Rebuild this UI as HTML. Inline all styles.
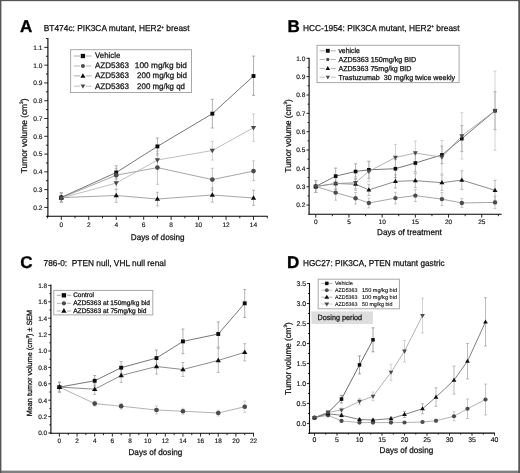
<!DOCTYPE html>
<html lang="en">
<head>
<meta charset="utf-8">
<title>AZD5363 xenograft tumor volume figure</title>
<style>
html,body{margin:0;padding:0;background:#fff;}
body{width:520px;height:473px;overflow:hidden;font-family:"Liberation Sans", sans-serif;}
svg{display:block;}
</style>
</head>
<body>
<svg width="520" height="473" viewBox="0 0 520 473" font-family='"Liberation Sans", sans-serif' text-rendering="geometricPrecision">
<rect x="0" y="0" width="520" height="473" fill="#fff"/>
<defs><filter id="soft" x="0" y="0" width="520" height="473" filterUnits="userSpaceOnUse"><feGaussianBlur stdDeviation="0.35"/></filter></defs>
<g filter="url(#soft)">
<text x="20.1" y="32.2" font-size="17" font-weight="bold" fill="#000" stroke="#000" stroke-width="0.35">A</text>
<text x="43.8" y="31" font-size="8.6" fill="#111" stroke="#111" stroke-width="0.25" textLength="145.8" lengthAdjust="spacingAndGlyphs">BT474c: PIK3CA mutant, HER2<tspan font-size="4.8" dy="-2.5">+</tspan><tspan dy="2.5"> breast</tspan></text>
<line x1="47.9" y1="38.1" x2="47.9" y2="216.9" stroke="#080808" stroke-width="1.1"/>
<line x1="47.3" y1="216.3" x2="267.7" y2="216.3" stroke="#080808" stroke-width="1.1"/>
<line x1="44.3" y1="207.41" x2="47.9" y2="207.41" stroke="#080808" stroke-width="0.85"/>
<line x1="44.3" y1="189.63" x2="47.9" y2="189.63" stroke="#080808" stroke-width="0.85"/>
<line x1="44.3" y1="171.85" x2="47.9" y2="171.85" stroke="#080808" stroke-width="0.85"/>
<line x1="44.3" y1="154.07" x2="47.9" y2="154.07" stroke="#080808" stroke-width="0.85"/>
<line x1="44.3" y1="136.29" x2="47.9" y2="136.29" stroke="#080808" stroke-width="0.85"/>
<line x1="44.3" y1="118.51" x2="47.9" y2="118.51" stroke="#080808" stroke-width="0.85"/>
<line x1="44.3" y1="100.73" x2="47.9" y2="100.73" stroke="#080808" stroke-width="0.85"/>
<line x1="44.3" y1="82.95" x2="47.9" y2="82.95" stroke="#080808" stroke-width="0.85"/>
<line x1="44.3" y1="65.17" x2="47.9" y2="65.17" stroke="#080808" stroke-width="0.85"/>
<line x1="44.3" y1="47.39" x2="47.9" y2="47.39" stroke="#080808" stroke-width="0.85"/>
<line x1="45.9" y1="216.3" x2="47.9" y2="216.3" stroke="#080808" stroke-width="0.85"/>
<line x1="45.9" y1="198.52" x2="47.9" y2="198.52" stroke="#080808" stroke-width="0.85"/>
<line x1="45.9" y1="180.74" x2="47.9" y2="180.74" stroke="#080808" stroke-width="0.85"/>
<line x1="45.9" y1="162.96" x2="47.9" y2="162.96" stroke="#080808" stroke-width="0.85"/>
<line x1="45.9" y1="145.18" x2="47.9" y2="145.18" stroke="#080808" stroke-width="0.85"/>
<line x1="45.9" y1="127.4" x2="47.9" y2="127.4" stroke="#080808" stroke-width="0.85"/>
<line x1="45.9" y1="109.62" x2="47.9" y2="109.62" stroke="#080808" stroke-width="0.85"/>
<line x1="45.9" y1="91.84" x2="47.9" y2="91.84" stroke="#080808" stroke-width="0.85"/>
<line x1="45.9" y1="74.06" x2="47.9" y2="74.06" stroke="#080808" stroke-width="0.85"/>
<line x1="45.9" y1="56.28" x2="47.9" y2="56.28" stroke="#080808" stroke-width="0.85"/>
<line x1="45.9" y1="38.5" x2="47.9" y2="38.5" stroke="#080808" stroke-width="0.85"/>
<line x1="61.3" y1="216.3" x2="61.3" y2="219.9" stroke="#080808" stroke-width="0.85"/>
<line x1="88.76" y1="216.3" x2="88.76" y2="219.9" stroke="#080808" stroke-width="0.85"/>
<line x1="116.22" y1="216.3" x2="116.22" y2="219.9" stroke="#080808" stroke-width="0.85"/>
<line x1="143.68" y1="216.3" x2="143.68" y2="219.9" stroke="#080808" stroke-width="0.85"/>
<line x1="171.14" y1="216.3" x2="171.14" y2="219.9" stroke="#080808" stroke-width="0.85"/>
<line x1="198.6" y1="216.3" x2="198.6" y2="219.9" stroke="#080808" stroke-width="0.85"/>
<line x1="226.06" y1="216.3" x2="226.06" y2="219.9" stroke="#080808" stroke-width="0.85"/>
<line x1="253.52" y1="216.3" x2="253.52" y2="219.9" stroke="#080808" stroke-width="0.85"/>
<line x1="47.57" y1="216.3" x2="47.57" y2="218.3" stroke="#080808" stroke-width="0.85"/>
<line x1="75.03" y1="216.3" x2="75.03" y2="218.3" stroke="#080808" stroke-width="0.85"/>
<line x1="102.49" y1="216.3" x2="102.49" y2="218.3" stroke="#080808" stroke-width="0.85"/>
<line x1="129.95" y1="216.3" x2="129.95" y2="218.3" stroke="#080808" stroke-width="0.85"/>
<line x1="157.41" y1="216.3" x2="157.41" y2="218.3" stroke="#080808" stroke-width="0.85"/>
<line x1="184.87" y1="216.3" x2="184.87" y2="218.3" stroke="#080808" stroke-width="0.85"/>
<line x1="212.33" y1="216.3" x2="212.33" y2="218.3" stroke="#080808" stroke-width="0.85"/>
<line x1="239.79" y1="216.3" x2="239.79" y2="218.3" stroke="#080808" stroke-width="0.85"/>
<line x1="267.25" y1="216.3" x2="267.25" y2="218.3" stroke="#080808" stroke-width="0.85"/>
<text x="42.4" y="209.79" font-size="6.6" text-anchor="end" fill="#111" stroke="#111" stroke-width="0.15">0.2</text>
<text x="42.4" y="192.01" font-size="6.6" text-anchor="end" fill="#111" stroke="#111" stroke-width="0.15">0.3</text>
<text x="42.4" y="174.23" font-size="6.6" text-anchor="end" fill="#111" stroke="#111" stroke-width="0.15">0.4</text>
<text x="42.4" y="156.45" font-size="6.6" text-anchor="end" fill="#111" stroke="#111" stroke-width="0.15">0.5</text>
<text x="42.4" y="138.67" font-size="6.6" text-anchor="end" fill="#111" stroke="#111" stroke-width="0.15">0.6</text>
<text x="42.4" y="120.89" font-size="6.6" text-anchor="end" fill="#111" stroke="#111" stroke-width="0.15">0.7</text>
<text x="42.4" y="103.11" font-size="6.6" text-anchor="end" fill="#111" stroke="#111" stroke-width="0.15">0.8</text>
<text x="42.4" y="85.33" font-size="6.6" text-anchor="end" fill="#111" stroke="#111" stroke-width="0.15">0.9</text>
<text x="42.4" y="67.55" font-size="6.6" text-anchor="end" fill="#111" stroke="#111" stroke-width="0.15">1.0</text>
<text x="42.4" y="49.77" font-size="6.6" text-anchor="end" fill="#111" stroke="#111" stroke-width="0.15">1.1</text>
<text x="61.3" y="227.3" font-size="6.6" text-anchor="middle" fill="#111" stroke="#111" stroke-width="0.15">0</text>
<text x="88.76" y="227.3" font-size="6.6" text-anchor="middle" fill="#111" stroke="#111" stroke-width="0.15">2</text>
<text x="116.22" y="227.3" font-size="6.6" text-anchor="middle" fill="#111" stroke="#111" stroke-width="0.15">4</text>
<text x="143.68" y="227.3" font-size="6.6" text-anchor="middle" fill="#111" stroke="#111" stroke-width="0.15">6</text>
<text x="171.14" y="227.3" font-size="6.6" text-anchor="middle" fill="#111" stroke="#111" stroke-width="0.15">8</text>
<text x="198.6" y="227.3" font-size="6.6" text-anchor="middle" fill="#111" stroke="#111" stroke-width="0.15">10</text>
<text x="226.06" y="227.3" font-size="6.6" text-anchor="middle" fill="#111" stroke="#111" stroke-width="0.15">12</text>
<text x="253.52" y="227.3" font-size="6.6" text-anchor="middle" fill="#111" stroke="#111" stroke-width="0.15">14</text>
<text x="27.2" y="135.9" font-size="8.6" text-anchor="middle" fill="#111" stroke="#111" stroke-width="0.25" textLength="74.7" lengthAdjust="spacingAndGlyphs" transform="rotate(-90 27.2 135.9)">Tumor volume (cm<tspan font-size="4.8" dy="-4.4">3</tspan><tspan dy="4.4">)</tspan></text>
<text x="157.7" y="240.3" font-size="8.3" text-anchor="middle" fill="#111" stroke="#111" stroke-width="0.25" textLength="53.8" lengthAdjust="spacingAndGlyphs">Days of dosing</text>
<path d="M61.3 192.8V202M59.8 192.8H62.8M59.8 202H62.8" stroke="#888" stroke-width="0.65" fill="none"/>
<path d="M116.22 165.8V179M114.72 165.8H117.72M114.72 179H117.72" stroke="#888" stroke-width="0.65" fill="none"/>
<path d="M157.41 138V155M155.91 138H158.91M155.91 155H158.91" stroke="#888" stroke-width="0.65" fill="none"/>
<path d="M212.33 99.3V128M210.83 99.3H213.83M210.83 128H213.83" stroke="#888" stroke-width="0.65" fill="none"/>
<path d="M253.52 56.1V95.4M252.02 56.1H255.02M252.02 95.4H255.02" stroke="#888" stroke-width="0.65" fill="none"/>
<path d="M61.3 193V202.5M59.8 193H62.8M59.8 202.5H62.8" stroke="#aaa" stroke-width="0.65" fill="none"/>
<path d="M116.22 168.5V182M114.72 168.5H117.72M114.72 182H117.72" stroke="#aaa" stroke-width="0.65" fill="none"/>
<path d="M157.41 151V184.3M155.91 151H158.91M155.91 184.3H158.91" stroke="#aaa" stroke-width="0.65" fill="none"/>
<path d="M212.33 168.3V190.3M210.83 168.3H213.83M210.83 190.3H213.83" stroke="#aaa" stroke-width="0.65" fill="none"/>
<path d="M253.52 160.9V180.7M252.02 160.9H255.02M252.02 180.7H255.02" stroke="#aaa" stroke-width="0.65" fill="none"/>
<path d="M61.3 193V202M59.8 193H62.8M59.8 202H62.8" stroke="#999" stroke-width="0.65" fill="none"/>
<path d="M116.22 189.3V202.3M114.72 189.3H117.72M114.72 202.3H117.72" stroke="#999" stroke-width="0.65" fill="none"/>
<path d="M157.41 192.3V206M155.91 192.3H158.91M155.91 206H158.91" stroke="#999" stroke-width="0.65" fill="none"/>
<path d="M212.33 188V202.1M210.83 188H213.83M210.83 202.1H213.83" stroke="#999" stroke-width="0.65" fill="none"/>
<path d="M253.52 190.3V205.4M252.02 190.3H255.02M252.02 205.4H255.02" stroke="#999" stroke-width="0.65" fill="none"/>
<path d="M61.3 193.5V202.5M59.8 193.5H62.8M59.8 202.5H62.8" stroke="#bbb" stroke-width="0.65" fill="none"/>
<path d="M116.22 177V189.2M114.72 177H117.72M114.72 189.2H117.72" stroke="#bbb" stroke-width="0.65" fill="none"/>
<path d="M157.41 153.5V166.5M155.91 153.5H158.91M155.91 166.5H158.91" stroke="#bbb" stroke-width="0.65" fill="none"/>
<path d="M212.33 141.4V160.1M210.83 141.4H213.83M210.83 160.1H213.83" stroke="#bbb" stroke-width="0.65" fill="none"/>
<path d="M253.52 113.9V141.4M252.02 113.9H255.02M252.02 141.4H255.02" stroke="#bbb" stroke-width="0.65" fill="none"/>
<polyline points="61.3,197.4 116.22,172.5 157.41,146.4 212.33,113.7 253.52,76" fill="none" stroke="#4a4a4a" stroke-width="0.75"/>
<rect x="59.35" y="195.45" width="3.9" height="3.9" fill="#111"/>
<rect x="114.27" y="170.55" width="3.9" height="3.9" fill="#111"/>
<rect x="155.46" y="144.45" width="3.9" height="3.9" fill="#111"/>
<rect x="210.38" y="111.75" width="3.9" height="3.9" fill="#111"/>
<rect x="251.57" y="74.05" width="3.9" height="3.9" fill="#111"/>
<polyline points="61.3,197.8 116.22,175.2 157.41,167.6 212.33,179.6 253.52,171.1" fill="none" stroke="#888" stroke-width="0.75"/>
<circle cx="61.3" cy="197.8" r="2.35" fill="#4c4c4c"/>
<circle cx="116.22" cy="175.2" r="2.35" fill="#4c4c4c"/>
<circle cx="157.41" cy="167.6" r="2.35" fill="#4c4c4c"/>
<circle cx="212.33" cy="179.6" r="2.35" fill="#4c4c4c"/>
<circle cx="253.52" cy="171.1" r="2.35" fill="#4c4c4c"/>
<polyline points="61.3,197.6 116.22,195.5 157.41,199 212.33,195 253.52,198" fill="none" stroke="#888" stroke-width="0.75"/>
<polygon points="61.3,194.8 58.65,199.4 63.95,199.4" fill="#111"/>
<polygon points="116.22,192.7 113.57,197.3 118.87,197.3" fill="#111"/>
<polygon points="157.41,196.2 154.76,200.8 160.06,200.8" fill="#111"/>
<polygon points="212.33,192.2 209.68,196.8 214.98,196.8" fill="#111"/>
<polygon points="253.52,195.2 250.87,199.8 256.17,199.8" fill="#111"/>
<polyline points="61.3,198 116.22,183.1 157.41,160 212.33,150.5 253.52,127.7" fill="none" stroke="#aaa" stroke-width="0.75"/>
<polygon points="61.3,200.8 58.65,196.2 63.95,196.2" fill="#4c4c4c"/>
<polygon points="116.22,185.9 113.57,181.3 118.87,181.3" fill="#4c4c4c"/>
<polygon points="157.41,162.8 154.76,158.2 160.06,158.2" fill="#4c4c4c"/>
<polygon points="212.33,153.3 209.68,148.7 214.98,148.7" fill="#4c4c4c"/>
<polygon points="253.52,130.5 250.87,125.9 256.17,125.9" fill="#4c4c4c"/>
<rect x="70.6" y="49.7" width="120.9" height="42.8" fill="#fff" stroke="#a8a8a8" stroke-width="1"/>
<line x1="73.8" y1="56" x2="80" y2="56" stroke="#9a9a9a" stroke-width="0.8"/>
<line x1="85.8" y1="56" x2="91.6" y2="56" stroke="#9a9a9a" stroke-width="0.8"/>
<rect x="80.72" y="53.82" width="4.37" height="4.37" fill="#111"/>
<text x="95" y="58.47" font-size="8.1" fill="#111" stroke="#111" stroke-width="0.25" textLength="25.3" lengthAdjust="spacingAndGlyphs">Vehicle</text>
<line x1="73.8" y1="66" x2="80" y2="66" stroke="#a4a4a4" stroke-width="0.8"/>
<line x1="85.8" y1="66" x2="91.6" y2="66" stroke="#a4a4a4" stroke-width="0.8"/>
<circle cx="82.9" cy="66" r="2.07" fill="#4c4c4c"/>
<text x="95" y="68.47" font-size="8.1" fill="#111" stroke="#111" stroke-width="0.25" textLength="34" lengthAdjust="spacingAndGlyphs">AZD5363</text>
<text x="134.8" y="68.47" font-size="8.1" fill="#111" stroke="#111" stroke-width="0.25" textLength="52.2" lengthAdjust="spacingAndGlyphs">100 mg/kg bid</text>
<line x1="73.8" y1="75.9" x2="80" y2="75.9" stroke="#9a9a9a" stroke-width="0.8"/>
<line x1="85.8" y1="75.9" x2="91.6" y2="75.9" stroke="#9a9a9a" stroke-width="0.8"/>
<polygon points="82.9,73.16 80.3,77.66 85.5,77.66" fill="#111"/>
<text x="95" y="78.37" font-size="8.1" fill="#111" stroke="#111" stroke-width="0.25" textLength="34" lengthAdjust="spacingAndGlyphs">AZD5363</text>
<text x="137.1" y="78.37" font-size="8.1" fill="#111" stroke="#111" stroke-width="0.25" textLength="49.9" lengthAdjust="spacingAndGlyphs">200 mg/kg bid</text>
<line x1="73.8" y1="86.2" x2="80" y2="86.2" stroke="#adadad" stroke-width="0.8"/>
<line x1="85.8" y1="86.2" x2="91.6" y2="86.2" stroke="#adadad" stroke-width="0.8"/>
<polygon points="82.9,88.72 80.52,84.58 85.29,84.58" fill="#4c4c4c"/>
<text x="95" y="88.67" font-size="8.1" fill="#111" stroke="#111" stroke-width="0.25" textLength="34" lengthAdjust="spacingAndGlyphs">AZD5363</text>
<text x="137.1" y="88.67" font-size="8.1" fill="#111" stroke="#111" stroke-width="0.25" textLength="47.9" lengthAdjust="spacingAndGlyphs">200 mg/kg qd</text>
<text x="287.4" y="32.2" font-size="17" font-weight="bold" fill="#000" stroke="#000" stroke-width="0.35">B</text>
<text x="303" y="30.6" font-size="8.6" fill="#111" stroke="#111" stroke-width="0.25" textLength="156.6" lengthAdjust="spacingAndGlyphs">HCC-1954: PIK3CA mutant, HER2<tspan font-size="4.8" dy="-2.5">+</tspan><tspan dy="2.5"> breast</tspan></text>
<line x1="309.1" y1="57.7" x2="309.1" y2="214.9" stroke="#080808" stroke-width="1.1"/>
<line x1="308.5" y1="214.3" x2="501.6" y2="214.3" stroke="#080808" stroke-width="1.1"/>
<line x1="306.5" y1="205.07" x2="309.1" y2="205.07" stroke="#080808" stroke-width="0.85"/>
<line x1="306.5" y1="186.72" x2="309.1" y2="186.72" stroke="#080808" stroke-width="0.85"/>
<line x1="306.5" y1="168.38" x2="309.1" y2="168.38" stroke="#080808" stroke-width="0.85"/>
<line x1="306.5" y1="150.03" x2="309.1" y2="150.03" stroke="#080808" stroke-width="0.85"/>
<line x1="306.5" y1="131.67" x2="309.1" y2="131.67" stroke="#080808" stroke-width="0.85"/>
<line x1="306.5" y1="113.33" x2="309.1" y2="113.33" stroke="#080808" stroke-width="0.85"/>
<line x1="306.5" y1="94.97" x2="309.1" y2="94.97" stroke="#080808" stroke-width="0.85"/>
<line x1="306.5" y1="76.62" x2="309.1" y2="76.62" stroke="#080808" stroke-width="0.85"/>
<line x1="306.5" y1="58.28" x2="309.1" y2="58.28" stroke="#080808" stroke-width="0.85"/>
<line x1="307.6" y1="195.9" x2="309.1" y2="195.9" stroke="#080808" stroke-width="0.85"/>
<line x1="307.6" y1="177.55" x2="309.1" y2="177.55" stroke="#080808" stroke-width="0.85"/>
<line x1="307.6" y1="159.2" x2="309.1" y2="159.2" stroke="#080808" stroke-width="0.85"/>
<line x1="307.6" y1="140.85" x2="309.1" y2="140.85" stroke="#080808" stroke-width="0.85"/>
<line x1="307.6" y1="122.5" x2="309.1" y2="122.5" stroke="#080808" stroke-width="0.85"/>
<line x1="307.6" y1="104.15" x2="309.1" y2="104.15" stroke="#080808" stroke-width="0.85"/>
<line x1="307.6" y1="85.8" x2="309.1" y2="85.8" stroke="#080808" stroke-width="0.85"/>
<line x1="307.6" y1="67.45" x2="309.1" y2="67.45" stroke="#080808" stroke-width="0.85"/>
<line x1="315.75" y1="214.3" x2="315.75" y2="217.6" stroke="#080808" stroke-width="0.85"/>
<line x1="348.95" y1="214.3" x2="348.95" y2="217.6" stroke="#080808" stroke-width="0.85"/>
<line x1="382.15" y1="214.3" x2="382.15" y2="217.6" stroke="#080808" stroke-width="0.85"/>
<line x1="415.35" y1="214.3" x2="415.35" y2="217.6" stroke="#080808" stroke-width="0.85"/>
<line x1="448.55" y1="214.3" x2="448.55" y2="217.6" stroke="#080808" stroke-width="0.85"/>
<line x1="481.75" y1="214.3" x2="481.75" y2="217.6" stroke="#080808" stroke-width="0.85"/>
<line x1="332.35" y1="214.3" x2="332.35" y2="216.2" stroke="#080808" stroke-width="0.85"/>
<line x1="365.55" y1="214.3" x2="365.55" y2="216.2" stroke="#080808" stroke-width="0.85"/>
<line x1="398.75" y1="214.3" x2="398.75" y2="216.2" stroke="#080808" stroke-width="0.85"/>
<line x1="431.95" y1="214.3" x2="431.95" y2="216.2" stroke="#080808" stroke-width="0.85"/>
<line x1="465.15" y1="214.3" x2="465.15" y2="216.2" stroke="#080808" stroke-width="0.85"/>
<line x1="498.35" y1="214.3" x2="498.35" y2="216.2" stroke="#080808" stroke-width="0.85"/>
<text x="305.3" y="207.41" font-size="6.5" text-anchor="end" fill="#111" stroke="#111" stroke-width="0.15">0.2</text>
<text x="305.3" y="189.06" font-size="6.5" text-anchor="end" fill="#111" stroke="#111" stroke-width="0.15">0.3</text>
<text x="305.3" y="170.72" font-size="6.5" text-anchor="end" fill="#111" stroke="#111" stroke-width="0.15">0.4</text>
<text x="305.3" y="152.37" font-size="6.5" text-anchor="end" fill="#111" stroke="#111" stroke-width="0.15">0.5</text>
<text x="305.3" y="134.01" font-size="6.5" text-anchor="end" fill="#111" stroke="#111" stroke-width="0.15">0.6</text>
<text x="305.3" y="115.67" font-size="6.5" text-anchor="end" fill="#111" stroke="#111" stroke-width="0.15">0.7</text>
<text x="305.3" y="97.31" font-size="6.5" text-anchor="end" fill="#111" stroke="#111" stroke-width="0.15">0.8</text>
<text x="305.3" y="78.96" font-size="6.5" text-anchor="end" fill="#111" stroke="#111" stroke-width="0.15">0.9</text>
<text x="305.3" y="60.62" font-size="6.5" text-anchor="end" fill="#111" stroke="#111" stroke-width="0.15">1.0</text>
<text x="315.75" y="223.8" font-size="6.5" text-anchor="middle" fill="#111" stroke="#111" stroke-width="0.15">0</text>
<text x="348.95" y="223.8" font-size="6.5" text-anchor="middle" fill="#111" stroke="#111" stroke-width="0.15">5</text>
<text x="382.15" y="223.8" font-size="6.5" text-anchor="middle" fill="#111" stroke="#111" stroke-width="0.15">10</text>
<text x="415.35" y="223.8" font-size="6.5" text-anchor="middle" fill="#111" stroke="#111" stroke-width="0.15">15</text>
<text x="448.55" y="223.8" font-size="6.5" text-anchor="middle" fill="#111" stroke="#111" stroke-width="0.15">20</text>
<text x="481.75" y="223.8" font-size="6.5" text-anchor="middle" fill="#111" stroke="#111" stroke-width="0.15">25</text>
<text x="291.2" y="135.8" font-size="8.6" text-anchor="middle" fill="#111" stroke="#111" stroke-width="0.25" textLength="73.2" lengthAdjust="spacingAndGlyphs" transform="rotate(-90 291.2 135.8)">Tumor volume (cm<tspan font-size="4.8" dy="-4.4">3</tspan><tspan dy="4.4">)</tspan></text>
<text x="409.4" y="234.5" font-size="8.3" text-anchor="middle" fill="#111" stroke="#111" stroke-width="0.25" textLength="64.8" lengthAdjust="spacingAndGlyphs">Days of treatment</text>
<path d="M315.75 180.5V192.5M314.25 180.5H317.25M314.25 192.5H317.25" stroke="#888" stroke-width="0.65" fill="none"/>
<path d="M335.67 168.1V184.1M334.17 168.1H337.17M334.17 184.1H337.17" stroke="#888" stroke-width="0.65" fill="none"/>
<path d="M355.59 163.8V179.2M354.09 163.8H357.09M354.09 179.2H357.09" stroke="#888" stroke-width="0.65" fill="none"/>
<path d="M368.87 161.3V178.3M367.37 161.3H370.37M367.37 178.3H370.37" stroke="#888" stroke-width="0.65" fill="none"/>
<path d="M395.43 159.7V177.7M393.93 159.7H396.93M393.93 177.7H396.93" stroke="#888" stroke-width="0.65" fill="none"/>
<path d="M415.35 154V172M413.85 154H416.85M413.85 172H416.85" stroke="#888" stroke-width="0.65" fill="none"/>
<path d="M441.91 146.1V163.7M440.41 146.1H443.41M440.41 163.7H443.41" stroke="#888" stroke-width="0.65" fill="none"/>
<path d="M461.83 125.6V151.6M460.33 125.6H463.33M460.33 151.6H463.33" stroke="#888" stroke-width="0.65" fill="none"/>
<path d="M495.03 91.7V129.7M493.53 91.7H496.53M493.53 129.7H496.53" stroke="#888" stroke-width="0.65" fill="none"/>
<path d="M315.75 180.5V192.5M314.25 180.5H317.25M314.25 192.5H317.25" stroke="#aaa" stroke-width="0.65" fill="none"/>
<path d="M335.67 185V200.2M334.17 185H337.17M334.17 200.2H337.17" stroke="#aaa" stroke-width="0.65" fill="none"/>
<path d="M355.59 192.5V204.1M354.09 192.5H357.09M354.09 204.1H357.09" stroke="#aaa" stroke-width="0.65" fill="none"/>
<path d="M368.87 198.1V207.9M367.37 198.1H370.37M367.37 207.9H370.37" stroke="#aaa" stroke-width="0.65" fill="none"/>
<path d="M395.43 192.3V203.9M393.93 192.3H396.93M393.93 203.9H396.93" stroke="#aaa" stroke-width="0.65" fill="none"/>
<path d="M415.35 189.6V201.6M413.85 189.6H416.85M413.85 201.6H416.85" stroke="#aaa" stroke-width="0.65" fill="none"/>
<path d="M441.91 192.6V205.6M440.41 192.6H443.41M440.41 205.6H443.41" stroke="#aaa" stroke-width="0.65" fill="none"/>
<path d="M461.83 198.6V207.4M460.33 198.6H463.33M460.33 207.4H463.33" stroke="#aaa" stroke-width="0.65" fill="none"/>
<path d="M495.03 196.2V208.6M493.53 196.2H496.53M493.53 208.6H496.53" stroke="#aaa" stroke-width="0.65" fill="none"/>
<path d="M315.75 180.5V192.5M314.25 180.5H317.25M314.25 192.5H317.25" stroke="#999" stroke-width="0.65" fill="none"/>
<path d="M335.67 177.5V189.5M334.17 177.5H337.17M334.17 189.5H337.17" stroke="#999" stroke-width="0.65" fill="none"/>
<path d="M355.59 178.2V190.2M354.09 178.2H357.09M354.09 190.2H357.09" stroke="#999" stroke-width="0.65" fill="none"/>
<path d="M368.87 184.3V195.5M367.37 184.3H370.37M367.37 195.5H370.37" stroke="#999" stroke-width="0.65" fill="none"/>
<path d="M395.43 174.8V188M393.93 174.8H396.93M393.93 188H396.93" stroke="#999" stroke-width="0.65" fill="none"/>
<path d="M415.35 173.6V187.6M413.85 173.6H416.85M413.85 187.6H416.85" stroke="#999" stroke-width="0.65" fill="none"/>
<path d="M441.91 175V190.4M440.41 175H443.41M440.41 190.4H443.41" stroke="#999" stroke-width="0.65" fill="none"/>
<path d="M461.83 170.8V189.4M460.33 170.8H463.33M460.33 189.4H463.33" stroke="#999" stroke-width="0.65" fill="none"/>
<path d="M495.03 180.3V200.3M493.53 180.3H496.53M493.53 200.3H496.53" stroke="#999" stroke-width="0.65" fill="none"/>
<path d="M315.75 180.5V192.5M314.25 180.5H317.25M314.25 192.5H317.25" stroke="#bbb" stroke-width="0.65" fill="none"/>
<path d="M335.67 178.5V188.5M334.17 178.5H337.17M334.17 188.5H337.17" stroke="#bbb" stroke-width="0.65" fill="none"/>
<path d="M355.59 176.6V188.6M354.09 176.6H357.09M354.09 188.6H357.09" stroke="#bbb" stroke-width="0.65" fill="none"/>
<path d="M368.87 161.3V181.3M367.37 161.3H370.37M367.37 181.3H370.37" stroke="#bbb" stroke-width="0.65" fill="none"/>
<path d="M395.43 144.4V170.6M393.93 144.4H396.93M393.93 170.6H396.93" stroke="#bbb" stroke-width="0.65" fill="none"/>
<path d="M415.35 141V165M413.85 141H416.85M413.85 165H416.85" stroke="#bbb" stroke-width="0.65" fill="none"/>
<path d="M441.91 140.5V173.9M440.41 140.5H443.41M440.41 173.9H443.41" stroke="#bbb" stroke-width="0.65" fill="none"/>
<path d="M461.83 112.7V159.1M460.33 112.7H463.33M460.33 159.1H463.33" stroke="#bbb" stroke-width="0.65" fill="none"/>
<path d="M495.03 71.1V150.3M493.53 71.1H496.53M493.53 150.3H496.53" stroke="#bbb" stroke-width="0.65" fill="none"/>
<polyline points="315.75,186.5 335.67,176.1 355.59,171.5 368.87,169.8 395.43,168.7 415.35,163 441.91,154.9 461.83,138.6 495.03,110.7" fill="none" stroke="#4a4a4a" stroke-width="0.75"/>
<rect x="313.94" y="184.69" width="3.63" height="3.63" fill="#111"/>
<rect x="333.86" y="174.29" width="3.63" height="3.63" fill="#111"/>
<rect x="353.78" y="169.69" width="3.63" height="3.63" fill="#111"/>
<rect x="367.06" y="167.99" width="3.63" height="3.63" fill="#111"/>
<rect x="393.62" y="166.89" width="3.63" height="3.63" fill="#111"/>
<rect x="413.54" y="161.19" width="3.63" height="3.63" fill="#111"/>
<rect x="440.1" y="153.09" width="3.63" height="3.63" fill="#111"/>
<rect x="460.02" y="136.79" width="3.63" height="3.63" fill="#111"/>
<rect x="493.22" y="108.89" width="3.63" height="3.63" fill="#111"/>
<polyline points="315.75,186.5 335.67,192.6 355.59,198.3 368.87,203 395.43,198.1 415.35,195.6 441.91,199.1 461.83,203 495.03,202.4" fill="none" stroke="#888" stroke-width="0.75"/>
<circle cx="315.75" cy="186.5" r="2.19" fill="#4c4c4c"/>
<circle cx="335.67" cy="192.6" r="2.19" fill="#4c4c4c"/>
<circle cx="355.59" cy="198.3" r="2.19" fill="#4c4c4c"/>
<circle cx="368.87" cy="203" r="2.19" fill="#4c4c4c"/>
<circle cx="395.43" cy="198.1" r="2.19" fill="#4c4c4c"/>
<circle cx="415.35" cy="195.6" r="2.19" fill="#4c4c4c"/>
<circle cx="441.91" cy="199.1" r="2.19" fill="#4c4c4c"/>
<circle cx="461.83" cy="203" r="2.19" fill="#4c4c4c"/>
<circle cx="495.03" cy="202.4" r="2.19" fill="#4c4c4c"/>
<polyline points="315.75,186.5 335.67,183.5 355.59,184.2 368.87,189.9 395.43,181.4 415.35,180.6 441.91,182.7 461.83,180.1 495.03,190.3" fill="none" stroke="#666" stroke-width="0.75"/>
<polygon points="315.75,183.9 313.29,188.17 318.21,188.17" fill="#111"/>
<polygon points="335.67,180.9 333.21,185.17 338.13,185.17" fill="#111"/>
<polygon points="355.59,181.6 353.13,185.87 358.05,185.87" fill="#111"/>
<polygon points="368.87,187.3 366.41,191.57 371.33,191.57" fill="#111"/>
<polygon points="395.43,178.8 392.97,183.07 397.89,183.07" fill="#111"/>
<polygon points="415.35,178 412.89,182.27 417.81,182.27" fill="#111"/>
<polygon points="441.91,180.1 439.45,184.37 444.37,184.37" fill="#111"/>
<polygon points="461.83,177.5 459.37,181.77 464.29,181.77" fill="#111"/>
<polygon points="495.03,187.7 492.57,191.97 497.49,191.97" fill="#111"/>
<polyline points="315.75,186.5 335.67,183.5 355.59,182.6 368.87,171.3 395.43,157.5 415.35,153 441.91,157.2 461.83,135.9 495.03,110.7" fill="none" stroke="#999" stroke-width="0.75"/>
<polygon points="315.75,189.1 313.29,184.83 318.21,184.83" fill="#4c4c4c"/>
<polygon points="335.67,186.1 333.21,181.83 338.13,181.83" fill="#4c4c4c"/>
<polygon points="355.59,185.2 353.13,180.93 358.05,180.93" fill="#4c4c4c"/>
<polygon points="368.87,173.9 366.41,169.63 371.33,169.63" fill="#4c4c4c"/>
<polygon points="395.43,160.1 392.97,155.83 397.89,155.83" fill="#4c4c4c"/>
<polygon points="415.35,155.6 412.89,151.33 417.81,151.33" fill="#4c4c4c"/>
<polygon points="441.91,159.8 439.45,155.53 444.37,155.53" fill="#4c4c4c"/>
<polygon points="461.83,138.5 459.37,134.23 464.29,134.23" fill="#4c4c4c"/>
<polygon points="495.03,113.3 492.57,109.03 497.49,109.03" fill="#4c4c4c"/>
<rect x="317" y="45.3" width="142.1" height="37.3" fill="#fff" stroke="#a8a8a8" stroke-width="1"/>
<line x1="319.6" y1="50.8" x2="324.9" y2="50.8" stroke="#9a9a9a" stroke-width="0.8"/>
<line x1="330.7" y1="50.8" x2="335.8" y2="50.8" stroke="#9a9a9a" stroke-width="0.8"/>
<rect x="325.85" y="48.85" width="3.9" height="3.9" fill="#111"/>
<text x="338.4" y="53.19" font-size="7.2" fill="#111" stroke="#111" stroke-width="0.25" textLength="21.5" lengthAdjust="spacingAndGlyphs">vehicle</text>
<line x1="319.6" y1="59.5" x2="324.9" y2="59.5" stroke="#a4a4a4" stroke-width="0.8"/>
<line x1="330.7" y1="59.5" x2="335.8" y2="59.5" stroke="#a4a4a4" stroke-width="0.8"/>
<circle cx="327.8" cy="59.5" r="1.65" fill="#4c4c4c"/>
<text x="338.4" y="61.89" font-size="7.2" fill="#111" stroke="#111" stroke-width="0.25" textLength="77.8" lengthAdjust="spacingAndGlyphs">AZD5363 150mg/kg BID</text>
<line x1="319.6" y1="68.4" x2="324.9" y2="68.4" stroke="#9a9a9a" stroke-width="0.8"/>
<line x1="330.7" y1="68.4" x2="335.8" y2="68.4" stroke="#9a9a9a" stroke-width="0.8"/>
<polygon points="327.8,65.94 325.47,69.98 330.13,69.98" fill="#111"/>
<text x="338.4" y="70.79" font-size="7.2" fill="#111" stroke="#111" stroke-width="0.25" textLength="73.1" lengthAdjust="spacingAndGlyphs">AZD5363 75mg/kg BID</text>
<line x1="319.6" y1="77.2" x2="324.9" y2="77.2" stroke="#adadad" stroke-width="0.8"/>
<line x1="330.7" y1="77.2" x2="335.8" y2="77.2" stroke="#adadad" stroke-width="0.8"/>
<polygon points="327.8,79.5 325.63,75.72 329.97,75.72" fill="#4c4c4c"/>
<text x="338.4" y="79.59" font-size="7.2" fill="#111" stroke="#111" stroke-width="0.25" textLength="116.8" lengthAdjust="spacingAndGlyphs">Trastuzumab&#160; 30 mg/kg twice weekly</text>
<text x="20.3" y="268.2" font-size="17" font-weight="bold" fill="#000" stroke="#000" stroke-width="0.35">C</text>
<text x="43.6" y="265.9" font-size="8.6" fill="#111" stroke="#111" stroke-width="0.25" textLength="122.2" lengthAdjust="spacingAndGlyphs">786-0:&#160; PTEN null, VHL null renal</text>
<line x1="50.9" y1="284.5" x2="50.9" y2="433.9" stroke="#080808" stroke-width="1.1"/>
<line x1="50.3" y1="433.3" x2="254" y2="433.3" stroke="#080808" stroke-width="1.1"/>
<line x1="48.3" y1="433" x2="50.9" y2="433" stroke="#080808" stroke-width="0.85"/>
<line x1="48.3" y1="416.6" x2="50.9" y2="416.6" stroke="#080808" stroke-width="0.85"/>
<line x1="48.3" y1="400.2" x2="50.9" y2="400.2" stroke="#080808" stroke-width="0.85"/>
<line x1="48.3" y1="383.8" x2="50.9" y2="383.8" stroke="#080808" stroke-width="0.85"/>
<line x1="48.3" y1="367.4" x2="50.9" y2="367.4" stroke="#080808" stroke-width="0.85"/>
<line x1="48.3" y1="351" x2="50.9" y2="351" stroke="#080808" stroke-width="0.85"/>
<line x1="48.3" y1="334.6" x2="50.9" y2="334.6" stroke="#080808" stroke-width="0.85"/>
<line x1="48.3" y1="318.2" x2="50.9" y2="318.2" stroke="#080808" stroke-width="0.85"/>
<line x1="48.3" y1="301.8" x2="50.9" y2="301.8" stroke="#080808" stroke-width="0.85"/>
<line x1="48.3" y1="285.4" x2="50.9" y2="285.4" stroke="#080808" stroke-width="0.85"/>
<line x1="49.4" y1="424.8" x2="50.9" y2="424.8" stroke="#080808" stroke-width="0.85"/>
<line x1="49.4" y1="408.4" x2="50.9" y2="408.4" stroke="#080808" stroke-width="0.85"/>
<line x1="49.4" y1="392" x2="50.9" y2="392" stroke="#080808" stroke-width="0.85"/>
<line x1="49.4" y1="375.6" x2="50.9" y2="375.6" stroke="#080808" stroke-width="0.85"/>
<line x1="49.4" y1="359.2" x2="50.9" y2="359.2" stroke="#080808" stroke-width="0.85"/>
<line x1="49.4" y1="342.8" x2="50.9" y2="342.8" stroke="#080808" stroke-width="0.85"/>
<line x1="49.4" y1="326.4" x2="50.9" y2="326.4" stroke="#080808" stroke-width="0.85"/>
<line x1="49.4" y1="310" x2="50.9" y2="310" stroke="#080808" stroke-width="0.85"/>
<line x1="49.4" y1="293.6" x2="50.9" y2="293.6" stroke="#080808" stroke-width="0.85"/>
<line x1="59.4" y1="433.3" x2="59.4" y2="436.6" stroke="#080808" stroke-width="0.85"/>
<line x1="77.05" y1="433.3" x2="77.05" y2="436.6" stroke="#080808" stroke-width="0.85"/>
<line x1="94.7" y1="433.3" x2="94.7" y2="436.6" stroke="#080808" stroke-width="0.85"/>
<line x1="112.35" y1="433.3" x2="112.35" y2="436.6" stroke="#080808" stroke-width="0.85"/>
<line x1="130" y1="433.3" x2="130" y2="436.6" stroke="#080808" stroke-width="0.85"/>
<line x1="147.65" y1="433.3" x2="147.65" y2="436.6" stroke="#080808" stroke-width="0.85"/>
<line x1="165.3" y1="433.3" x2="165.3" y2="436.6" stroke="#080808" stroke-width="0.85"/>
<line x1="182.95" y1="433.3" x2="182.95" y2="436.6" stroke="#080808" stroke-width="0.85"/>
<line x1="200.6" y1="433.3" x2="200.6" y2="436.6" stroke="#080808" stroke-width="0.85"/>
<line x1="218.25" y1="433.3" x2="218.25" y2="436.6" stroke="#080808" stroke-width="0.85"/>
<line x1="235.9" y1="433.3" x2="235.9" y2="436.6" stroke="#080808" stroke-width="0.85"/>
<line x1="253.55" y1="433.3" x2="253.55" y2="436.6" stroke="#080808" stroke-width="0.85"/>
<line x1="68.22" y1="433.3" x2="68.22" y2="435.2" stroke="#080808" stroke-width="0.85"/>
<line x1="85.88" y1="433.3" x2="85.88" y2="435.2" stroke="#080808" stroke-width="0.85"/>
<line x1="103.53" y1="433.3" x2="103.53" y2="435.2" stroke="#080808" stroke-width="0.85"/>
<line x1="121.17" y1="433.3" x2="121.17" y2="435.2" stroke="#080808" stroke-width="0.85"/>
<line x1="138.82" y1="433.3" x2="138.82" y2="435.2" stroke="#080808" stroke-width="0.85"/>
<line x1="156.47" y1="433.3" x2="156.47" y2="435.2" stroke="#080808" stroke-width="0.85"/>
<line x1="174.12" y1="433.3" x2="174.12" y2="435.2" stroke="#080808" stroke-width="0.85"/>
<line x1="191.78" y1="433.3" x2="191.78" y2="435.2" stroke="#080808" stroke-width="0.85"/>
<line x1="209.42" y1="433.3" x2="209.42" y2="435.2" stroke="#080808" stroke-width="0.85"/>
<line x1="227.07" y1="433.3" x2="227.07" y2="435.2" stroke="#080808" stroke-width="0.85"/>
<line x1="244.72" y1="433.3" x2="244.72" y2="435.2" stroke="#080808" stroke-width="0.85"/>
<text x="47.2" y="435.34" font-size="6.5" text-anchor="end" fill="#111" stroke="#111" stroke-width="0.15">0.0</text>
<text x="47.2" y="418.94" font-size="6.5" text-anchor="end" fill="#111" stroke="#111" stroke-width="0.15">0.2</text>
<text x="47.2" y="402.54" font-size="6.5" text-anchor="end" fill="#111" stroke="#111" stroke-width="0.15">0.4</text>
<text x="47.2" y="386.14" font-size="6.5" text-anchor="end" fill="#111" stroke="#111" stroke-width="0.15">0.6</text>
<text x="47.2" y="369.74" font-size="6.5" text-anchor="end" fill="#111" stroke="#111" stroke-width="0.15">0.8</text>
<text x="47.2" y="353.34" font-size="6.5" text-anchor="end" fill="#111" stroke="#111" stroke-width="0.15">1.0</text>
<text x="47.2" y="336.94" font-size="6.5" text-anchor="end" fill="#111" stroke="#111" stroke-width="0.15">1.2</text>
<text x="47.2" y="320.54" font-size="6.5" text-anchor="end" fill="#111" stroke="#111" stroke-width="0.15">1.4</text>
<text x="47.2" y="304.14" font-size="6.5" text-anchor="end" fill="#111" stroke="#111" stroke-width="0.15">1.6</text>
<text x="47.2" y="287.74" font-size="6.5" text-anchor="end" fill="#111" stroke="#111" stroke-width="0.15">1.8</text>
<text x="59.4" y="442.7" font-size="6.5" text-anchor="middle" fill="#111" stroke="#111" stroke-width="0.15">0</text>
<text x="77.05" y="442.7" font-size="6.5" text-anchor="middle" fill="#111" stroke="#111" stroke-width="0.15">2</text>
<text x="94.7" y="442.7" font-size="6.5" text-anchor="middle" fill="#111" stroke="#111" stroke-width="0.15">4</text>
<text x="112.35" y="442.7" font-size="6.5" text-anchor="middle" fill="#111" stroke="#111" stroke-width="0.15">6</text>
<text x="130" y="442.7" font-size="6.5" text-anchor="middle" fill="#111" stroke="#111" stroke-width="0.15">8</text>
<text x="147.65" y="442.7" font-size="6.5" text-anchor="middle" fill="#111" stroke="#111" stroke-width="0.15">10</text>
<text x="165.3" y="442.7" font-size="6.5" text-anchor="middle" fill="#111" stroke="#111" stroke-width="0.15">12</text>
<text x="182.95" y="442.7" font-size="6.5" text-anchor="middle" fill="#111" stroke="#111" stroke-width="0.15">14</text>
<text x="200.6" y="442.7" font-size="6.5" text-anchor="middle" fill="#111" stroke="#111" stroke-width="0.15">16</text>
<text x="218.25" y="442.7" font-size="6.5" text-anchor="middle" fill="#111" stroke="#111" stroke-width="0.15">18</text>
<text x="235.9" y="442.7" font-size="6.5" text-anchor="middle" fill="#111" stroke="#111" stroke-width="0.15">20</text>
<text x="253.55" y="442.7" font-size="6.5" text-anchor="middle" fill="#111" stroke="#111" stroke-width="0.15">22</text>
<text x="32.3" y="363.05" font-size="7.5" text-anchor="middle" fill="#111" stroke="#111" stroke-width="0.25" textLength="106.3" lengthAdjust="spacingAndGlyphs" transform="rotate(-90 32.3 363.05)">Mean tumor volume (cm<tspan font-size="4.3" dy="-3.8">3</tspan><tspan dy="3.8">) ± SEM</tspan></text>
<text x="155.4" y="454.5" font-size="8.5" text-anchor="middle" fill="#111" stroke="#111" stroke-width="0.25" textLength="53.8" lengthAdjust="spacingAndGlyphs">Days of dosing</text>
<path d="M59.4 382.5V392M57.9 382.5H60.9M57.9 392H60.9" stroke="#888" stroke-width="0.65" fill="none"/>
<path d="M94.7 375.5V386M93.2 375.5H96.2M93.2 386H96.2" stroke="#888" stroke-width="0.65" fill="none"/>
<path d="M121.17 361.7V373.7M119.67 361.7H122.67M119.67 373.7H122.67" stroke="#888" stroke-width="0.65" fill="none"/>
<path d="M156.47 350V366.2M154.97 350H157.97M154.97 366.2H157.97" stroke="#888" stroke-width="0.65" fill="none"/>
<path d="M182.95 329V353.6M181.45 329H184.45M181.45 353.6H184.45" stroke="#888" stroke-width="0.65" fill="none"/>
<path d="M218.25 321.9V347.2M216.75 321.9H219.75M216.75 347.2H219.75" stroke="#888" stroke-width="0.65" fill="none"/>
<path d="M244.72 289.4V317.5M243.22 289.4H246.22M243.22 317.5H246.22" stroke="#888" stroke-width="0.65" fill="none"/>
<path d="M59.4 382.1V392.1M57.9 382.1H60.9M57.9 392.1H60.9" stroke="#bbb" stroke-width="0.65" fill="none"/>
<path d="M94.7 401.1V406.1M93.2 401.1H96.2M93.2 406.1H96.2" stroke="#bbb" stroke-width="0.65" fill="none"/>
<path d="M121.17 403.2V409.2M119.67 403.2H122.67M119.67 409.2H122.67" stroke="#bbb" stroke-width="0.65" fill="none"/>
<path d="M156.47 406V414M154.97 406H157.97M154.97 414H157.97" stroke="#bbb" stroke-width="0.65" fill="none"/>
<path d="M182.95 408.25V414.25M181.45 408.25H184.45M181.45 414.25H184.45" stroke="#bbb" stroke-width="0.65" fill="none"/>
<path d="M218.25 410V416M216.75 410H219.75M216.75 416H219.75" stroke="#bbb" stroke-width="0.65" fill="none"/>
<path d="M244.72 401.15V412.35M243.22 401.15H246.22M243.22 412.35H246.22" stroke="#bbb" stroke-width="0.65" fill="none"/>
<path d="M59.4 382.1V392.1M57.9 382.1H60.9M57.9 392.1H60.9" stroke="#999" stroke-width="0.65" fill="none"/>
<path d="M94.7 383.9V394.5M93.2 383.9H96.2M93.2 394.5H96.2" stroke="#999" stroke-width="0.65" fill="none"/>
<path d="M121.17 368.5V382.5M119.67 368.5H122.67M119.67 382.5H122.67" stroke="#999" stroke-width="0.65" fill="none"/>
<path d="M156.47 358.9V374.1M154.97 358.9H157.97M154.97 374.1H157.97" stroke="#999" stroke-width="0.65" fill="none"/>
<path d="M182.95 362.5V376.5M181.45 362.5H184.45M181.45 376.5H184.45" stroke="#999" stroke-width="0.65" fill="none"/>
<path d="M218.25 348.4V372.4M216.75 348.4H219.75M216.75 372.4H219.75" stroke="#999" stroke-width="0.65" fill="none"/>
<path d="M244.72 343.7V360.9M243.22 343.7H246.22M243.22 360.9H246.22" stroke="#999" stroke-width="0.65" fill="none"/>
<polyline points="59.4,387.1 94.7,380.8 121.17,367.7 156.47,358.1 182.95,341.4 218.25,334 244.72,303.3" fill="none" stroke="#4a4a4a" stroke-width="0.75"/>
<rect x="57.45" y="385.15" width="3.9" height="3.9" fill="#111"/>
<rect x="92.75" y="378.85" width="3.9" height="3.9" fill="#111"/>
<rect x="119.22" y="365.75" width="3.9" height="3.9" fill="#111"/>
<rect x="154.53" y="356.15" width="3.9" height="3.9" fill="#111"/>
<rect x="181" y="339.45" width="3.9" height="3.9" fill="#111"/>
<rect x="216.3" y="332.05" width="3.9" height="3.9" fill="#111"/>
<rect x="242.78" y="301.35" width="3.9" height="3.9" fill="#111"/>
<polyline points="59.4,387.1 94.7,403.6 121.17,406.2 156.47,410 182.95,411.25 218.25,413 244.72,406.75" fill="none" stroke="#999" stroke-width="0.75"/>
<circle cx="59.4" cy="387.1" r="2.35" fill="#4c4c4c"/>
<circle cx="94.7" cy="403.6" r="2.35" fill="#4c4c4c"/>
<circle cx="121.17" cy="406.2" r="2.35" fill="#4c4c4c"/>
<circle cx="156.47" cy="410" r="2.35" fill="#4c4c4c"/>
<circle cx="182.95" cy="411.25" r="2.35" fill="#4c4c4c"/>
<circle cx="218.25" cy="413" r="2.35" fill="#4c4c4c"/>
<circle cx="244.72" cy="406.75" r="2.35" fill="#4c4c4c"/>
<polyline points="59.4,387.1 94.7,389.2 121.17,375.5 156.47,366.5 182.95,369.5 218.25,360.4 244.72,352.3" fill="none" stroke="#666" stroke-width="0.75"/>
<polygon points="59.4,384.3 56.75,388.9 62.05,388.9" fill="#111"/>
<polygon points="94.7,386.4 92.05,391 97.35,391" fill="#111"/>
<polygon points="121.17,372.7 118.52,377.3 123.82,377.3" fill="#111"/>
<polygon points="156.47,363.7 153.82,368.3 159.12,368.3" fill="#111"/>
<polygon points="182.95,366.7 180.3,371.3 185.6,371.3" fill="#111"/>
<polygon points="218.25,357.6 215.6,362.2 220.9,362.2" fill="#111"/>
<polygon points="244.72,349.5 242.07,354.1 247.38,354.1" fill="#111"/>
<rect x="53.8" y="290.4" width="99" height="24.5" fill="#fff" stroke="#a8a8a8" stroke-width="1"/>
<line x1="56.8" y1="295.3" x2="60.8" y2="295.3" stroke="#909090" stroke-width="0.8"/>
<line x1="67" y1="295.3" x2="71.2" y2="295.3" stroke="#909090" stroke-width="0.8"/>
<rect x="61.72" y="293.12" width="4.37" height="4.37" fill="#111"/>
<text x="73.2" y="297.38" font-size="6.6" fill="#111" stroke="#111" stroke-width="0.25" textLength="20.7" lengthAdjust="spacingAndGlyphs">Control</text>
<line x1="56.8" y1="303.3" x2="60.8" y2="303.3" stroke="#a0a0a0" stroke-width="0.8"/>
<line x1="67" y1="303.3" x2="71.2" y2="303.3" stroke="#a0a0a0" stroke-width="0.8"/>
<circle cx="63.9" cy="303.3" r="2.16" fill="#4c4c4c"/>
<text x="73.2" y="305.38" font-size="6.6" fill="#111" stroke="#111" stroke-width="0.25" textLength="76.8" lengthAdjust="spacingAndGlyphs">AZD5363 at 150mg/kg bid</text>
<line x1="56.8" y1="311" x2="60.8" y2="311" stroke="#989898" stroke-width="0.8"/>
<line x1="67" y1="311" x2="71.2" y2="311" stroke="#989898" stroke-width="0.8"/>
<polygon points="63.9,308.12 61.17,312.85 66.63,312.85" fill="#111"/>
<text x="73.2" y="313.08" font-size="6.6" fill="#111" stroke="#111" stroke-width="0.25" textLength="73.3" lengthAdjust="spacingAndGlyphs">AZD5363 at 75mg/kg bid</text>
<text x="287" y="268.2" font-size="17" font-weight="bold" fill="#000" stroke="#000" stroke-width="0.35">D</text>
<text x="303" y="266.3" font-size="8.6" fill="#111" stroke="#111" stroke-width="0.25" textLength="141.6" lengthAdjust="spacingAndGlyphs">HGC27: PIK3CA, PTEN mutant gastric</text>
<rect x="311.4" y="311.4" width="61.6" height="12.6" fill="#dedede"/>
<text x="317.5" y="320.1" font-size="7.6" fill="#111" stroke="#111" stroke-width="0.25" textLength="44.6" lengthAdjust="spacingAndGlyphs">Dosing period</text>
<line x1="309.5" y1="283" x2="309.5" y2="433.7" stroke="#080808" stroke-width="1.1"/>
<line x1="308.9" y1="433.1" x2="494.9" y2="433.1" stroke="#080808" stroke-width="1.1"/>
<line x1="306.9" y1="423.4" x2="309.5" y2="423.4" stroke="#080808" stroke-width="0.85"/>
<line x1="306.9" y1="403.41" x2="309.5" y2="403.41" stroke="#080808" stroke-width="0.85"/>
<line x1="306.9" y1="383.43" x2="309.5" y2="383.43" stroke="#080808" stroke-width="0.85"/>
<line x1="306.9" y1="363.44" x2="309.5" y2="363.44" stroke="#080808" stroke-width="0.85"/>
<line x1="306.9" y1="343.46" x2="309.5" y2="343.46" stroke="#080808" stroke-width="0.85"/>
<line x1="306.9" y1="323.47" x2="309.5" y2="323.47" stroke="#080808" stroke-width="0.85"/>
<line x1="306.9" y1="303.49" x2="309.5" y2="303.49" stroke="#080808" stroke-width="0.85"/>
<line x1="306.9" y1="283.5" x2="309.5" y2="283.5" stroke="#080808" stroke-width="0.85"/>
<line x1="308" y1="433.39" x2="309.5" y2="433.39" stroke="#080808" stroke-width="0.85"/>
<line x1="308" y1="413.41" x2="309.5" y2="413.41" stroke="#080808" stroke-width="0.85"/>
<line x1="308" y1="393.42" x2="309.5" y2="393.42" stroke="#080808" stroke-width="0.85"/>
<line x1="308" y1="373.44" x2="309.5" y2="373.44" stroke="#080808" stroke-width="0.85"/>
<line x1="308" y1="353.45" x2="309.5" y2="353.45" stroke="#080808" stroke-width="0.85"/>
<line x1="308" y1="333.47" x2="309.5" y2="333.47" stroke="#080808" stroke-width="0.85"/>
<line x1="308" y1="313.48" x2="309.5" y2="313.48" stroke="#080808" stroke-width="0.85"/>
<line x1="308" y1="293.5" x2="309.5" y2="293.5" stroke="#080808" stroke-width="0.85"/>
<line x1="314.5" y1="433.1" x2="314.5" y2="435.7" stroke="#080808" stroke-width="0.85"/>
<line x1="337" y1="433.1" x2="337" y2="435.7" stroke="#080808" stroke-width="0.85"/>
<line x1="359.5" y1="433.1" x2="359.5" y2="435.7" stroke="#080808" stroke-width="0.85"/>
<line x1="382" y1="433.1" x2="382" y2="435.7" stroke="#080808" stroke-width="0.85"/>
<line x1="404.5" y1="433.1" x2="404.5" y2="435.7" stroke="#080808" stroke-width="0.85"/>
<line x1="427" y1="433.1" x2="427" y2="435.7" stroke="#080808" stroke-width="0.85"/>
<line x1="449.5" y1="433.1" x2="449.5" y2="435.7" stroke="#080808" stroke-width="0.85"/>
<line x1="472" y1="433.1" x2="472" y2="435.7" stroke="#080808" stroke-width="0.85"/>
<line x1="494.5" y1="433.1" x2="494.5" y2="435.7" stroke="#080808" stroke-width="0.85"/>
<line x1="325.75" y1="433.1" x2="325.75" y2="434.6" stroke="#080808" stroke-width="0.85"/>
<line x1="348.25" y1="433.1" x2="348.25" y2="434.6" stroke="#080808" stroke-width="0.85"/>
<line x1="370.75" y1="433.1" x2="370.75" y2="434.6" stroke="#080808" stroke-width="0.85"/>
<line x1="393.25" y1="433.1" x2="393.25" y2="434.6" stroke="#080808" stroke-width="0.85"/>
<line x1="415.75" y1="433.1" x2="415.75" y2="434.6" stroke="#080808" stroke-width="0.85"/>
<line x1="438.25" y1="433.1" x2="438.25" y2="434.6" stroke="#080808" stroke-width="0.85"/>
<line x1="460.75" y1="433.1" x2="460.75" y2="434.6" stroke="#080808" stroke-width="0.85"/>
<line x1="483.25" y1="433.1" x2="483.25" y2="434.6" stroke="#080808" stroke-width="0.85"/>
<text x="306" y="425.88" font-size="6.9" text-anchor="end" fill="#111" stroke="#111" stroke-width="0.15">0.0</text>
<text x="306" y="405.9" font-size="6.9" text-anchor="end" fill="#111" stroke="#111" stroke-width="0.15">0.5</text>
<text x="306" y="385.91" font-size="6.9" text-anchor="end" fill="#111" stroke="#111" stroke-width="0.15">1.0</text>
<text x="306" y="365.93" font-size="6.9" text-anchor="end" fill="#111" stroke="#111" stroke-width="0.15">1.5</text>
<text x="306" y="345.94" font-size="6.9" text-anchor="end" fill="#111" stroke="#111" stroke-width="0.15">2.0</text>
<text x="306" y="325.96" font-size="6.9" text-anchor="end" fill="#111" stroke="#111" stroke-width="0.15">2.5</text>
<text x="306" y="305.97" font-size="6.9" text-anchor="end" fill="#111" stroke="#111" stroke-width="0.15">3.0</text>
<text x="306" y="285.99" font-size="6.9" text-anchor="end" fill="#111" stroke="#111" stroke-width="0.15">3.5</text>
<text x="314.5" y="442.4" font-size="6.9" text-anchor="middle" fill="#111" stroke="#111" stroke-width="0.15">0</text>
<text x="337" y="442.4" font-size="6.9" text-anchor="middle" fill="#111" stroke="#111" stroke-width="0.15">5</text>
<text x="359.5" y="442.4" font-size="6.9" text-anchor="middle" fill="#111" stroke="#111" stroke-width="0.15">10</text>
<text x="382" y="442.4" font-size="6.9" text-anchor="middle" fill="#111" stroke="#111" stroke-width="0.15">15</text>
<text x="404.5" y="442.4" font-size="6.9" text-anchor="middle" fill="#111" stroke="#111" stroke-width="0.15">20</text>
<text x="427" y="442.4" font-size="6.9" text-anchor="middle" fill="#111" stroke="#111" stroke-width="0.15">25</text>
<text x="449.5" y="442.4" font-size="6.9" text-anchor="middle" fill="#111" stroke="#111" stroke-width="0.15">30</text>
<text x="472" y="442.4" font-size="6.9" text-anchor="middle" fill="#111" stroke="#111" stroke-width="0.15">35</text>
<text x="494.5" y="442.4" font-size="6.9" text-anchor="middle" fill="#111" stroke="#111" stroke-width="0.15">40</text>
<text x="291" y="358.6" font-size="8.6" text-anchor="middle" fill="#111" stroke="#111" stroke-width="0.25" textLength="72.8" lengthAdjust="spacingAndGlyphs" transform="rotate(-90 291 358.6)">Tumor volume (cm<tspan font-size="4.8" dy="-4.4">3</tspan><tspan dy="4.4">)</tspan></text>
<text x="406.4" y="452.9" font-size="8.5" text-anchor="middle" fill="#111" stroke="#111" stroke-width="0.25" textLength="53.6" lengthAdjust="spacingAndGlyphs">Days of dosing</text>
<path d="M314.5 416.7V418.7M313 416.7H316M313 418.7H316" stroke="#777" stroke-width="0.65" fill="none"/>
<path d="M328 411.1V414.1M326.5 411.1H329.5M326.5 414.1H329.5" stroke="#777" stroke-width="0.65" fill="none"/>
<path d="M341.5 395.3V402.9M340 395.3H343M340 402.9H343" stroke="#777" stroke-width="0.65" fill="none"/>
<path d="M359.5 355.9V373.9M358 355.9H361M358 373.9H361" stroke="#777" stroke-width="0.65" fill="none"/>
<path d="M373 327.8V351.8M371.5 327.8H374.5M371.5 351.8H374.5" stroke="#777" stroke-width="0.65" fill="none"/>
<path d="M314.5 416.7V418.7M313 416.7H316M313 418.7H316" stroke="#aaa" stroke-width="0.65" fill="none"/>
<path d="M328 414.3V416.3M326.5 414.3H329.5M326.5 416.3H329.5" stroke="#aaa" stroke-width="0.65" fill="none"/>
<path d="M341.5 419.9V421.9M340 419.9H343M340 421.9H343" stroke="#aaa" stroke-width="0.65" fill="none"/>
<path d="M422.5 421V423M421 421H424M421 423H424" stroke="#aaa" stroke-width="0.65" fill="none"/>
<path d="M436 419.25V422.25M434.5 419.25H437.5M434.5 422.25H437.5" stroke="#aaa" stroke-width="0.65" fill="none"/>
<path d="M454 411.75V420.75M452.5 411.75H455.5M452.5 420.75H455.5" stroke="#aaa" stroke-width="0.65" fill="none"/>
<path d="M467.5 399V418.5M466 399H469M466 418.5H469" stroke="#aaa" stroke-width="0.65" fill="none"/>
<path d="M485.5 384.1V414.9M484 384.1H487M484 414.9H487" stroke="#aaa" stroke-width="0.65" fill="none"/>
<path d="M314.5 416.7V418.7M313 416.7H316M313 418.7H316" stroke="#999" stroke-width="0.65" fill="none"/>
<path d="M328 412.2V415.2M326.5 412.2H329.5M326.5 415.2H329.5" stroke="#999" stroke-width="0.65" fill="none"/>
<path d="M341.5 413.8V416.8M340 413.8H343M340 416.8H343" stroke="#999" stroke-width="0.65" fill="none"/>
<path d="M359.5 418.5V420.5M358 418.5H361M358 420.5H361" stroke="#999" stroke-width="0.65" fill="none"/>
<path d="M373 419V421M371.5 419H374.5M371.5 421H374.5" stroke="#999" stroke-width="0.65" fill="none"/>
<path d="M391 417.1V420.1M389.5 417.1H392.5M389.5 420.1H392.5" stroke="#999" stroke-width="0.65" fill="none"/>
<path d="M404.5 411.5V417.5M403 411.5H406M403 417.5H406" stroke="#999" stroke-width="0.65" fill="none"/>
<path d="M422.5 403.75V413.75M421 403.75H424M421 413.75H424" stroke="#999" stroke-width="0.65" fill="none"/>
<path d="M436 387.8V406.4M434.5 387.8H437.5M434.5 406.4H437.5" stroke="#999" stroke-width="0.65" fill="none"/>
<path d="M454 366.1V394.1M452.5 366.1H455.5M452.5 394.1H455.5" stroke="#999" stroke-width="0.65" fill="none"/>
<path d="M467.5 343.5V378.9M466 343.5H469M466 378.9H469" stroke="#999" stroke-width="0.65" fill="none"/>
<path d="M485.5 297.8V346M484 297.8H487M484 346H487" stroke="#999" stroke-width="0.65" fill="none"/>
<path d="M314.5 416.7V418.7M313 416.7H316M313 418.7H316" stroke="#bbb" stroke-width="0.65" fill="none"/>
<path d="M328 410.8V413.8M326.5 410.8H329.5M326.5 413.8H329.5" stroke="#bbb" stroke-width="0.65" fill="none"/>
<path d="M341.5 408V412M340 408H343M340 412H343" stroke="#bbb" stroke-width="0.65" fill="none"/>
<path d="M359.5 398.2V404.6M358 398.2H361M358 404.6H361" stroke="#bbb" stroke-width="0.65" fill="none"/>
<path d="M373 392V400.6M371.5 392H374.5M371.5 400.6H374.5" stroke="#bbb" stroke-width="0.65" fill="none"/>
<path d="M391 364.2V380.4M389.5 364.2H392.5M389.5 380.4H392.5" stroke="#bbb" stroke-width="0.65" fill="none"/>
<path d="M404.5 340.5V361.9M403 340.5H406M403 361.9H406" stroke="#bbb" stroke-width="0.65" fill="none"/>
<path d="M422.5 298.1V332.9M421 298.1H424M421 332.9H424" stroke="#bbb" stroke-width="0.65" fill="none"/>
<polyline points="314.5,417.7 328,412.6 341.5,399.1 359.5,364.9 373,339.8" fill="none" stroke="#3a3a3a" stroke-width="0.75"/>
<rect x="312.75" y="415.94" width="3.51" height="3.51" fill="#111"/>
<rect x="326.25" y="410.85" width="3.51" height="3.51" fill="#111"/>
<rect x="339.75" y="397.35" width="3.51" height="3.51" fill="#111"/>
<rect x="357.75" y="363.14" width="3.51" height="3.51" fill="#111"/>
<rect x="371.25" y="338.05" width="3.51" height="3.51" fill="#111"/>
<polyline points="314.5,417.7 328,415.3 341.5,420.9 359.5,422.6 373,422.6 391,422.6 404.5,422.5 422.5,422 436,420.75 454,416.25 467.5,408.75 485.5,399.5" fill="none" stroke="#999" stroke-width="0.75"/>
<circle cx="314.5" cy="417.7" r="2.12" fill="#4c4c4c"/>
<circle cx="328" cy="415.3" r="2.12" fill="#4c4c4c"/>
<circle cx="341.5" cy="420.9" r="2.12" fill="#4c4c4c"/>
<circle cx="359.5" cy="422.6" r="2.12" fill="#4c4c4c"/>
<circle cx="373" cy="422.6" r="2.12" fill="#4c4c4c"/>
<circle cx="391" cy="422.6" r="2.12" fill="#4c4c4c"/>
<circle cx="404.5" cy="422.5" r="2.12" fill="#4c4c4c"/>
<circle cx="422.5" cy="422" r="2.12" fill="#4c4c4c"/>
<circle cx="436" cy="420.75" r="2.12" fill="#4c4c4c"/>
<circle cx="454" cy="416.25" r="2.12" fill="#4c4c4c"/>
<circle cx="467.5" cy="408.75" r="2.12" fill="#4c4c4c"/>
<circle cx="485.5" cy="399.5" r="2.12" fill="#4c4c4c"/>
<polyline points="314.5,417.7 328,413.7 341.5,415.3 359.5,419.5 373,420 391,418.6 404.5,414.5 422.5,408.75 436,397.1 454,380.1 467.5,361.2 485.5,321.9" fill="none" stroke="#555" stroke-width="0.75"/>
<polygon points="314.5,415.18 312.12,419.32 316.88,419.32" fill="#111"/>
<polygon points="328,411.18 325.62,415.32 330.38,415.32" fill="#111"/>
<polygon points="341.5,412.78 339.12,416.92 343.88,416.92" fill="#111"/>
<polygon points="359.5,416.98 357.12,421.12 361.88,421.12" fill="#111"/>
<polygon points="373,417.48 370.62,421.62 375.38,421.62" fill="#111"/>
<polygon points="391,416.08 388.62,420.22 393.38,420.22" fill="#111"/>
<polygon points="404.5,411.98 402.12,416.12 406.88,416.12" fill="#111"/>
<polygon points="422.5,406.23 420.12,410.37 424.88,410.37" fill="#111"/>
<polygon points="436,394.58 433.62,398.72 438.38,398.72" fill="#111"/>
<polygon points="454,377.58 451.62,381.72 456.38,381.72" fill="#111"/>
<polygon points="467.5,358.68 465.12,362.82 469.88,362.82" fill="#111"/>
<polygon points="485.5,319.38 483.12,323.52 487.88,323.52" fill="#111"/>
<polyline points="314.5,417.7 328,412.3 341.5,410 359.5,401.4 373,396.3 391,372.3 404.5,351.2 422.5,315.5" fill="none" stroke="#999" stroke-width="0.75"/>
<polygon points="314.5,420.22 312.12,416.08 316.88,416.08" fill="#4c4c4c"/>
<polygon points="328,414.82 325.62,410.68 330.38,410.68" fill="#4c4c4c"/>
<polygon points="341.5,412.52 339.12,408.38 343.88,408.38" fill="#4c4c4c"/>
<polygon points="359.5,403.92 357.12,399.78 361.88,399.78" fill="#4c4c4c"/>
<polygon points="373,398.82 370.62,394.68 375.38,394.68" fill="#4c4c4c"/>
<polygon points="391,374.82 388.62,370.68 393.38,370.68" fill="#4c4c4c"/>
<polygon points="404.5,353.72 402.12,349.58 406.88,349.58" fill="#4c4c4c"/>
<polygon points="422.5,318.02 420.12,313.88 424.88,313.88" fill="#4c4c4c"/>
<rect x="318.2" y="279.2" width="81.2" height="29.6" fill="#fff" stroke="#a8a8a8" stroke-width="1"/>
<line x1="321.2" y1="283.4" x2="332.5" y2="283.4" stroke="#999" stroke-width="0.7"/>
<rect x="325.05" y="281.65" width="3.5" height="3.5" fill="#111"/>
<text x="335" y="285.3" font-size="5.5" fill="#111" stroke="#111" stroke-width="0.12" textLength="17.8" lengthAdjust="spacingAndGlyphs">Vehicle</text>
<line x1="321.2" y1="290.2" x2="332.5" y2="290.2" stroke="#aaa" stroke-width="0.7"/>
<circle cx="326.8" cy="290.2" r="1.9" fill="#4c4c4c"/>
<text x="335" y="292.1" font-size="5.5" fill="#111" stroke="#111" stroke-width="0.12" textLength="22.5" lengthAdjust="spacingAndGlyphs">AZD5363</text>
<text x="362" y="292.1" font-size="5.5" fill="#111" stroke="#111" stroke-width="0.12" textLength="35" lengthAdjust="spacingAndGlyphs">150 mg/kg bid</text>
<line x1="321.2" y1="297.2" x2="332.5" y2="297.2" stroke="#999" stroke-width="0.7"/>
<polygon points="326.8,294.7 324.4,298.8 329.2,298.8" fill="#111"/>
<text x="335" y="299.1" font-size="5.5" fill="#111" stroke="#111" stroke-width="0.12" textLength="22.5" lengthAdjust="spacingAndGlyphs">AZD5363</text>
<text x="362" y="299.1" font-size="5.5" fill="#111" stroke="#111" stroke-width="0.12" textLength="35" lengthAdjust="spacingAndGlyphs">100 mg/kg bid</text>
<line x1="321.2" y1="304" x2="332.5" y2="304" stroke="#bbb" stroke-width="0.7"/>
<polygon points="326.8,306.5 324.4,302.4 329.2,302.4" fill="#4c4c4c"/>
<text x="335" y="305.9" font-size="5.5" fill="#111" stroke="#111" stroke-width="0.12" textLength="22.5" lengthAdjust="spacingAndGlyphs">AZD5363</text>
<text x="362" y="305.9" font-size="5.5" fill="#111" stroke="#111" stroke-width="0.12" textLength="30.5" lengthAdjust="spacingAndGlyphs">50 mg/kg bid</text>
</g>
<rect x="0" y="470.6" width="520" height="2.4" fill="#808080"/>
<rect x="0" y="0" width="520" height="1.15" fill="#555"/>
<rect x="0" y="0" width="1.4" height="473" fill="#555"/>
<rect x="518.3" y="0" width="1.7" height="473" fill="#555"/>
</svg>
</body>
</html>
